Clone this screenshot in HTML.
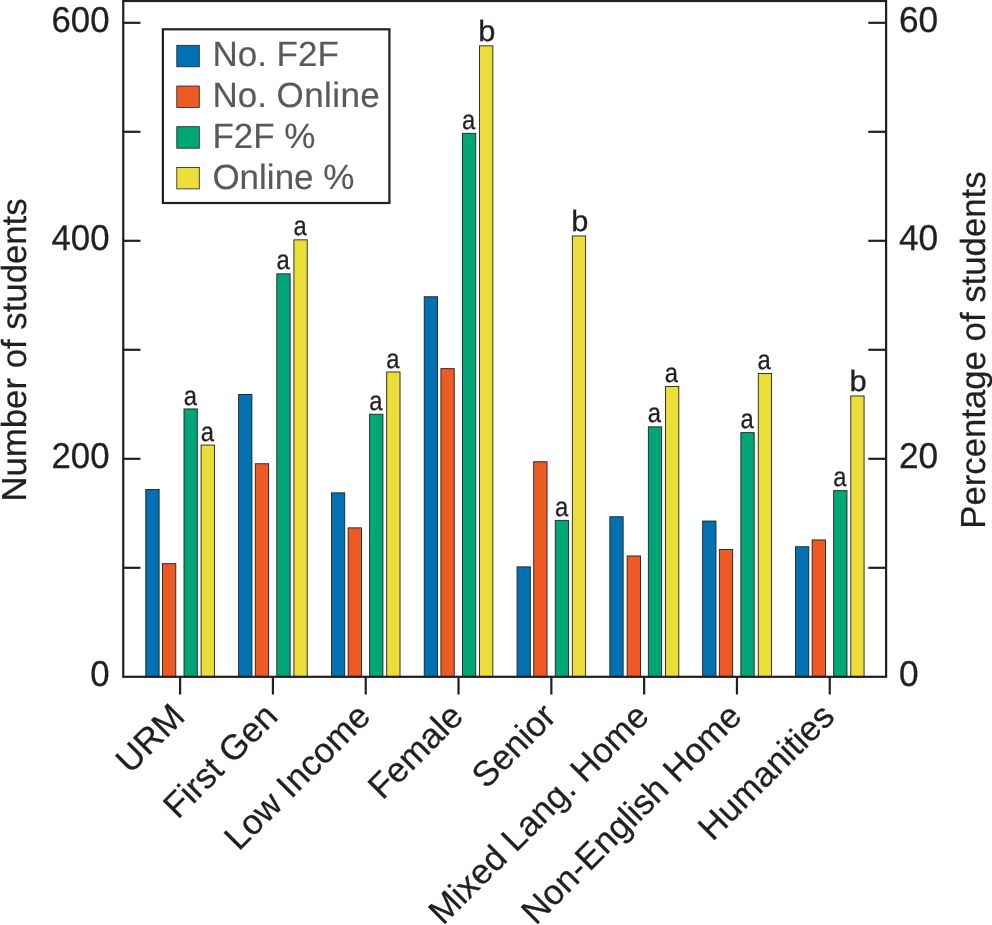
<!DOCTYPE html>
<html lang="en"><head><meta charset="utf-8"><title>Student demographics chart</title>
<style>html,body{margin:0;padding:0;background:#fff}body{width:992px;height:925px;overflow:hidden}svg{display:block}text{text-rendering:geometricPrecision;font-family:"Liberation Sans",sans-serif;fill:#231f20}.t{font-size:34.75px;stroke:#231f20;stroke-width:.25px}.x{font-size:35px}.lg{font-size:35px;fill:#58595b;stroke:#58595b;stroke-width:.15px}.s{font-size:28px;stroke:#231f20;stroke-width:.3px}</style></head><body>
<svg width="992" height="925" viewBox="0 0 992 925">
<rect x="0" y="0" width="992" height="925" fill="#fff"/>
<g stroke="#231f20" stroke-width="0.9">
<rect x="145.80" y="489.45" width="13.30" height="187.35" fill="#0072b4"/>
<rect x="162.50" y="563.65" width="13.30" height="113.15" fill="#ee5a24"/>
<rect x="184.00" y="408.95" width="13.30" height="267.85" fill="#00a676"/>
<rect x="201.10" y="445.05" width="13.30" height="231.75" fill="#ebde39"/>
<rect x="238.61" y="394.45" width="13.30" height="282.35" fill="#0072b4"/>
<rect x="255.31" y="463.75" width="13.30" height="213.05" fill="#ee5a24"/>
<rect x="276.81" y="273.85" width="13.30" height="402.95" fill="#00a676"/>
<rect x="293.91" y="239.85" width="13.30" height="436.95" fill="#ebde39"/>
<rect x="331.42" y="492.85" width="13.30" height="183.95" fill="#0072b4"/>
<rect x="348.12" y="527.85" width="13.30" height="148.95" fill="#ee5a24"/>
<rect x="369.62" y="414.25" width="13.30" height="262.55" fill="#00a676"/>
<rect x="386.72" y="371.95" width="13.30" height="304.85" fill="#ebde39"/>
<rect x="424.23" y="296.75" width="13.30" height="380.05" fill="#0072b4"/>
<rect x="440.93" y="368.65" width="13.30" height="308.15" fill="#ee5a24"/>
<rect x="462.43" y="133.35" width="13.30" height="543.45" fill="#00a676"/>
<rect x="479.53" y="45.85" width="13.30" height="630.95" fill="#ebde39"/>
<rect x="517.04" y="566.85" width="13.30" height="109.95" fill="#0072b4"/>
<rect x="533.74" y="461.75" width="13.30" height="215.05" fill="#ee5a24"/>
<rect x="555.24" y="520.35" width="13.30" height="156.45" fill="#00a676"/>
<rect x="572.34" y="235.95" width="13.30" height="440.85" fill="#ebde39"/>
<rect x="609.85" y="516.75" width="13.30" height="160.05" fill="#0072b4"/>
<rect x="627.15" y="555.95" width="13.30" height="120.85" fill="#ee5a24"/>
<rect x="648.35" y="426.85" width="13.30" height="249.95" fill="#00a676"/>
<rect x="665.50" y="386.45" width="13.30" height="290.35" fill="#ebde39"/>
<rect x="702.66" y="521.05" width="13.30" height="155.75" fill="#0072b4"/>
<rect x="719.36" y="549.55" width="13.30" height="127.25" fill="#ee5a24"/>
<rect x="740.86" y="432.65" width="13.30" height="244.15" fill="#00a676"/>
<rect x="758.26" y="373.45" width="13.30" height="303.35" fill="#ebde39"/>
<rect x="795.47" y="546.75" width="13.30" height="130.05" fill="#0072b4"/>
<rect x="812.17" y="539.95" width="13.30" height="136.85" fill="#ee5a24"/>
<rect x="833.67" y="490.65" width="13.30" height="186.15" fill="#00a676"/>
<rect x="850.77" y="395.95" width="13.30" height="280.85" fill="#ebde39"/>
</g>
<rect x="123.25" y="1.00" width="762.85" height="675.80" fill="none" stroke="#231f20" stroke-width="2.2"/>
<g stroke="#231f20" stroke-width="2.2" fill="none">
<path d="M123.25 22.80H140.45"/>
<path d="M886.10 22.80H868.30"/>
<path d="M123.25 131.80H140.45"/>
<path d="M886.10 131.80H868.30"/>
<path d="M123.25 240.80H140.45"/>
<path d="M886.10 240.80H868.30"/>
<path d="M123.25 349.80H140.45"/>
<path d="M886.10 349.80H868.30"/>
<path d="M123.25 458.80H140.45"/>
<path d="M886.10 458.80H868.30"/>
<path d="M123.25 567.80H140.45"/>
<path d="M886.10 567.80H868.30"/>
<path d="M180.10 676.80V694.50"/>
<path d="M272.91 676.80V694.50"/>
<path d="M365.72 676.80V694.50"/>
<path d="M458.53 676.80V694.50"/>
<path d="M551.34 676.80V694.50"/>
<path d="M644.15 676.80V694.50"/>
<path d="M736.96 676.80V694.50"/>
<path d="M829.77 676.80V694.50"/>
</g>
<text class="t" text-anchor="end" transform="translate(109.5 32.15) scale(1 1.03)">600</text>
<text class="t" transform="translate(898.95 32.15) scale(1.015 1.03)">60</text>
<text class="t" text-anchor="end" transform="translate(109.5 250.15) scale(1 1.03)">400</text>
<text class="t" transform="translate(898.95 250.15) scale(1.015 1.03)">40</text>
<text class="t" text-anchor="end" transform="translate(109.5 468.15) scale(1 1.03)">200</text>
<text class="t" transform="translate(898.95 468.15) scale(1.015 1.03)">20</text>
<text class="t" text-anchor="end" transform="translate(109.5 686.15) scale(1 1.03)">0</text>
<text class="t" transform="translate(898.95 686.15) scale(1.015 1.03)">0</text>
<text class="t x" text-anchor="end" transform="translate(186.60 718.3) rotate(-45)">URM</text>
<text class="t x" text-anchor="end" transform="translate(279.41 718.3) rotate(-45)">First Gen</text>
<text class="t x" text-anchor="end" transform="translate(372.22 718.3) rotate(-45)">Low Income</text>
<text class="t x" text-anchor="end" transform="translate(465.03 718.3) rotate(-45)">Female</text>
<text class="t x" text-anchor="end" transform="translate(557.84 718.3) rotate(-45)">Senior</text>
<text class="t x" text-anchor="end" transform="translate(650.65 718.3) rotate(-45)">Mixed Lang. Home</text>
<text class="t x" text-anchor="end" transform="translate(743.46 718.3) rotate(-45)">Non-English Home</text>
<text class="t x" text-anchor="end" transform="translate(836.27 718.3) rotate(-45)">Humanities</text>
<text class="t" transform="translate(26.0 501.6) rotate(-90)">Number of students</text>
<text class="t" transform="translate(985.0 528.8) rotate(-90)">Percentage of students</text>
<text class="s" text-anchor="middle" transform="translate(190.25 404.50) scale(0.85 0.97)">a</text>
<text class="s" text-anchor="middle" transform="translate(207.35 440.60) scale(0.85 0.97)">a</text>
<text class="s" text-anchor="middle" transform="translate(283.06 269.40) scale(0.85 0.97)">a</text>
<text class="s" text-anchor="middle" transform="translate(300.16 235.40) scale(0.85 0.97)">a</text>
<text class="s" text-anchor="middle" transform="translate(375.87 409.80) scale(0.85 0.97)">a</text>
<text class="s" text-anchor="middle" transform="translate(392.97 367.50) scale(0.85 0.97)">a</text>
<text class="s" text-anchor="middle" transform="translate(468.68 128.90) scale(0.85 0.97)">a</text>
<text class="s" text-anchor="middle" transform="translate(486.88 40.80) scale(1.1 1.05)">b</text>
<text class="s" text-anchor="middle" transform="translate(561.49 515.90) scale(0.85 0.97)">a</text>
<text class="s" text-anchor="middle" transform="translate(579.69 230.90) scale(1.1 1.05)">b</text>
<text class="s" text-anchor="middle" transform="translate(654.30 422.40) scale(0.85 0.97)">a</text>
<text class="s" text-anchor="middle" transform="translate(671.40 382.00) scale(0.85 0.97)">a</text>
<text class="s" text-anchor="middle" transform="translate(747.11 428.20) scale(0.85 0.97)">a</text>
<text class="s" text-anchor="middle" transform="translate(764.21 369.00) scale(0.85 0.97)">a</text>
<text class="s" text-anchor="middle" transform="translate(839.92 486.20) scale(0.85 0.97)">a</text>
<text class="s" text-anchor="middle" transform="translate(858.12 390.90) scale(1.1 1.05)">b</text>
<rect x="162.9" y="29.3" width="226.5" height="173.7" fill="#fff" stroke="#231f20" stroke-width="2.2"/>
<rect x="176.8" y="45.30" width="22.5" height="21.5" fill="#0072b4" stroke="#231f20" stroke-width="0.8"/>
<text class="lg" transform="translate(212.4 66.40) scale(1 1.002)">No. F2F</text>
<rect x="176.8" y="86.00" width="22.5" height="21.5" fill="#ee5a24" stroke="#231f20" stroke-width="0.8"/>
<text class="lg" transform="translate(212.4 107.12) scale(1 1.002)">No. <tspan letter-spacing="0.4">Online</tspan></text>
<rect x="176.8" y="126.70" width="22.5" height="21.5" fill="#00a676" stroke="#231f20" stroke-width="0.8"/>
<text class="lg" transform="translate(212.4 147.84) scale(1 1.002)">F2F %</text>
<rect x="176.8" y="167.40" width="22.5" height="21.5" fill="#ebde39" stroke="#231f20" stroke-width="0.8"/>
<text class="lg" transform="translate(212.4 188.56) scale(1 1.002)">Online %</text>
</svg></body></html>
